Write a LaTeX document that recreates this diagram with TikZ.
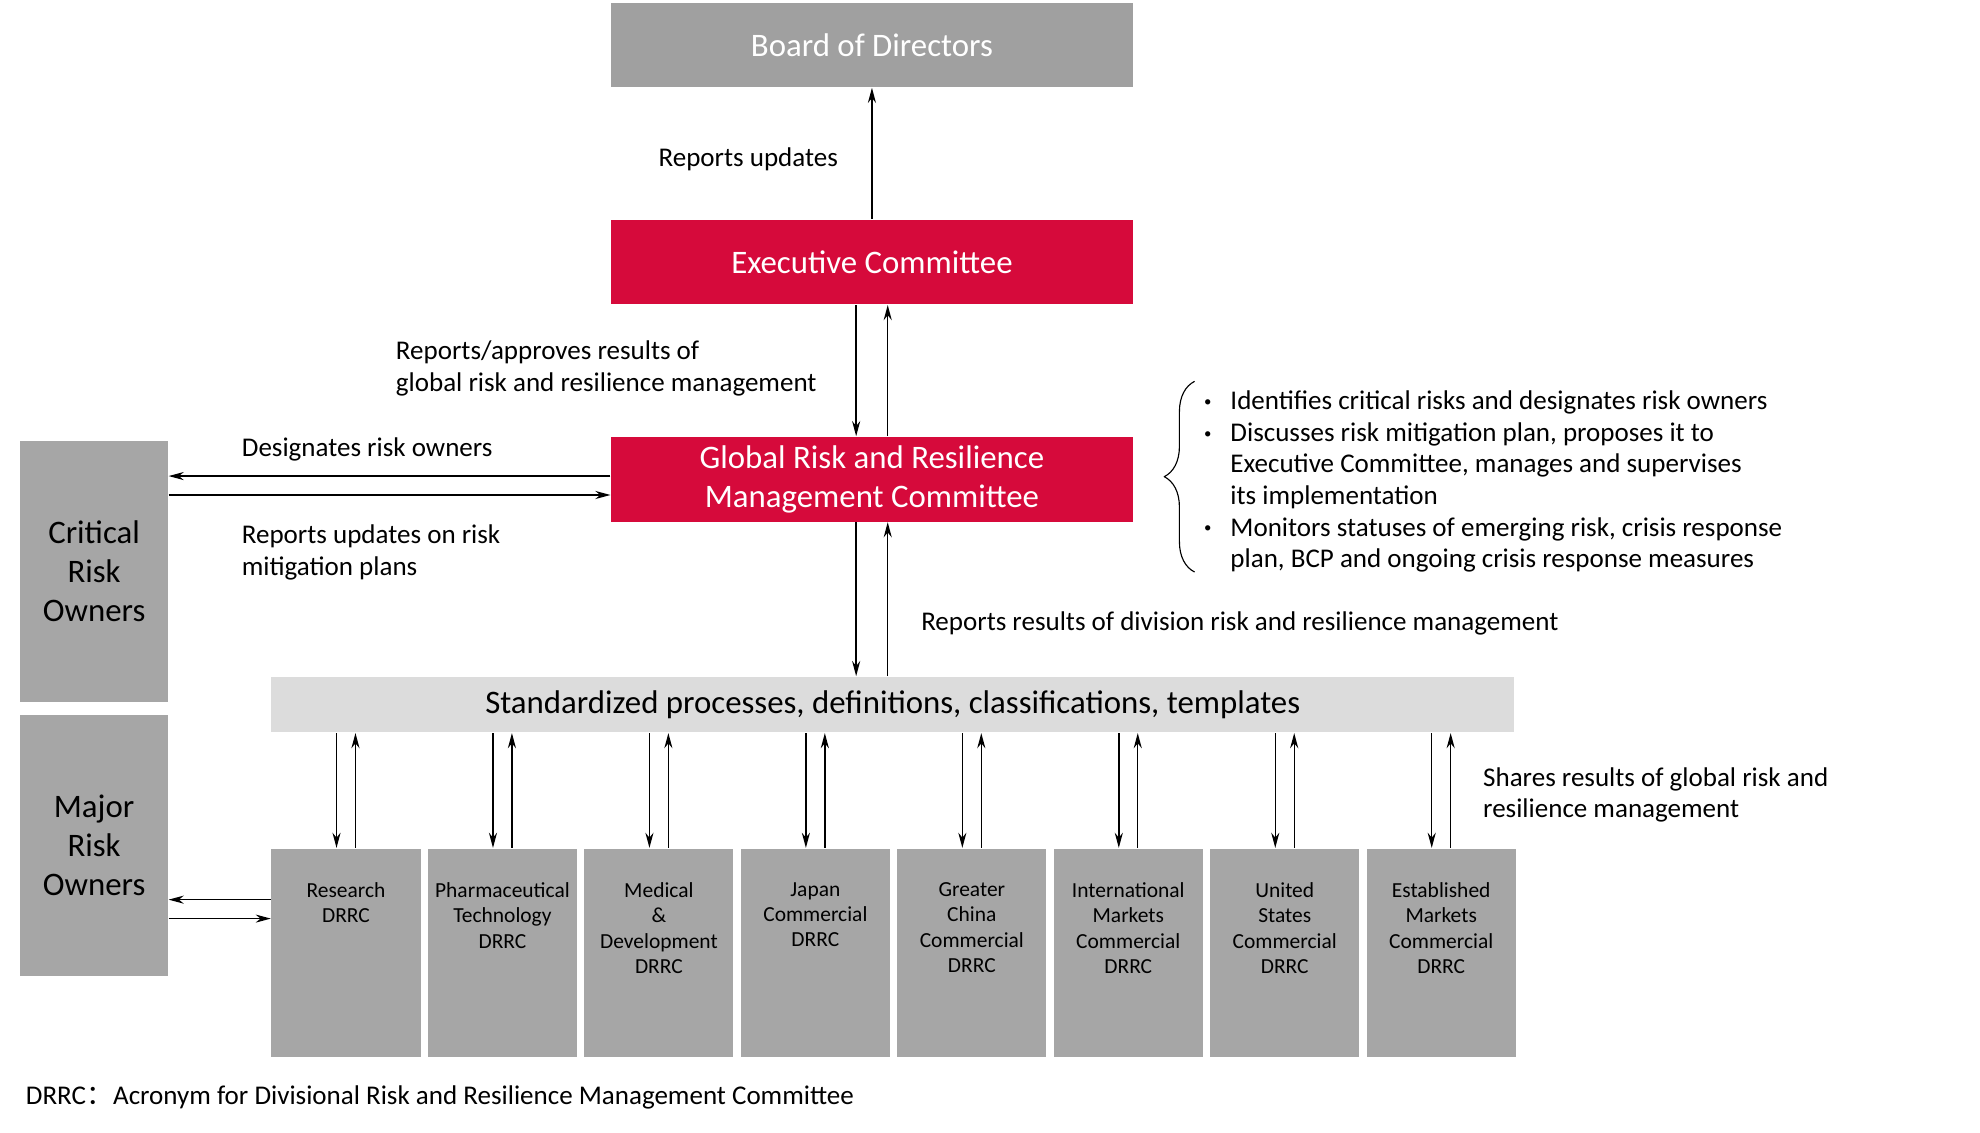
\documentclass[tikz,border=0pt]{standalone}
\usepackage{fontspec}
\setmainfont{Carlito}
\newfontfamily\cjk{Noto Sans CJK SC}
\usetikzlibrary{arrows.meta,decorations.pathreplacing}
\definecolor{boardgray}{RGB}{160,160,160}
\definecolor{ownergray}{RGB}{166,166,166}
\definecolor{stdgray}{RGB}{220,220,220}
\definecolor{riskred}{RGB}{214,10,59}
\newcommand\smallbullet{\raisebox{0.25ex}{\scalebox{0.55}{\textbullet}}}
\begin{document}
\begin{tikzpicture}[x=0.5pt, y=-0.5pt, font=\fontsize{10.7}{12.5}\selectfont, line join=round, line width=0.55pt, >={Stealth[length=6pt,width=3.2pt]},
	topbox/.style={minimum width=206.5pt, minimum height=33.5pt, inner sep=0pt, align=center, text=white, font=\fontsize{13}{15.5}\selectfont},
	owner/.style={fill=ownergray, minimum width=58.5pt, minimum height=103.5pt, inner sep=0pt, align=center, font=\fontsize{13}{15.5}\selectfont},
	drrc/.style={fill=ownergray, minimum width=59pt, minimum height=82.5pt, inner sep=0pt},
	drrctext/.style={anchor=north, yshift=-13.5pt, align=center, inner sep=0pt, font=\fontsize{8.5}{10}\selectfont},
	note/.style={anchor=west, align=left, inner sep=0pt, yshift=-1pt}]
		\useasboundingbox (0,0) rectangle (1568,897);
		\path
		(946,302) coordinate (bracetop)
		(946,453) coordinate (bracebot)
		;
		\node[topbox, fill=boardgray] (board) at (690.5,35.5) {Board of Directors};
		\node[topbox, fill=riskred] (exec) at (690.5,207.5) {Executive Committee};
		\node[topbox, fill=riskred] (grrmc) at (690.5,379.5) {Global Risk and Resilience\\Management Committee};
		\node[owner] (crit) at (74.5,452.5) {Critical\\Risk\\Owners};
		\node[owner] (major) at (74.5,669.5) {Major\\Risk\\Owners};
		\node[fill=stdgray, minimum width=492pt, minimum height=22pt, inner sep=0pt, font=\fontsize{13}{15}\selectfont] (std) at (707,558) {Standardized processes, definitions, classifications, templates};
		\foreach \name/\txt [count=\i from 0] in {research/Research\\DRRC, pharma/Pharmaceutical\\Technology\\DRRC, meddev/Medical\\\&\\Development\\DRRC, japan/Japan\\Commercial\\DRRC, china/Greater\\China\\Commercial\\DRRC, intl/International\\Markets\\Commercial\\DRRC, us/United\\States\\Commercial\\DRRC, estab/Established\\Markets\\Commercial\\DRRC}
		\node[drrc, label={[drrctext]north:\txt}] (\name) at (274+123.9*\i,754.5) {};
		\foreach \name in {research,pharma,meddev,japan,china,intl,us,estab}{
			\draw[->] ([xshift=-3.75pt]\name.north |- std.south) -- ([xshift=-3.75pt]\name.north);
			\draw[->] ([xshift=3.75pt]\name.north) -- ([xshift=3.75pt]\name.north |- std.south);
		}
		\draw[->] (exec.north) -- (board.south);
		\draw[->] ([xshift=-6.25pt]exec.south) -- ([xshift=-6.25pt]grrmc.north);
		\draw[->] ([xshift=6.25pt]grrmc.north) -- ([xshift=6.25pt]exec.south);
		\draw[->] ([xshift=-6.25pt]grrmc.south) -- ([xshift=-6.25pt]grrmc.south |- std.north);
		\draw[->] ([xshift=6.25pt]grrmc.south |- std.north) -- ([xshift=6.25pt]grrmc.south);
		\draw[->] ([yshift=1.25pt]grrmc.west) -- ([yshift=1.25pt]grrmc.west -| crit.east);
		\draw[->] ([yshift=-6.25pt]grrmc.west -| crit.east) -- ([yshift=-6.25pt]grrmc.west);
		\draw[->] ([yshift=-20.5pt]research.north west) -- ([yshift=-20.5pt]research.north west -| major.east);
		\draw[->] ([yshift=-28pt]research.north west -| major.east) -- ([yshift=-28pt]research.north west);
		\node[note] (reportsupd) at (521,124) {Reports updates};
		\node[note] (approves) at (313,290) {Reports/approves results of\\global risk and resilience management};
		\node[note] (designates) at (191,354) {Designates risk owners};
		\node[note] (mitigation) at (191,435.5) {Reports updates on risk\\mitigation plans};
		\node[note] (division) at (729,492) {Reports results of division risk and resilience management};
		\node[note] (shares) at (1174,627.5) {Shares results of global risk and\\resilience management};
		\node[note] (duties) at (953,380) {\begin{tabular}{@{}l@{\hspace{7.5pt}}l@{}}
			\smallbullet & Identifies critical risks and designates risk owners\\
			\smallbullet & Discusses risk mitigation plan, proposes it to\\
			& Executive Committee, manages and supervises\\
			& its implementation\\
			\smallbullet & Monitors statuses of emerging risk, crisis response\\
			& plan, BCP and ongoing crisis response measures
		\end{tabular}};
		\draw[decorate, decoration={brace, amplitude=12pt}, line width=0.45pt] (bracebot) -- (bracetop);
		\node[note] (footnote) at (20,867) {DRRC{\cjk ：}Acronym for Divisional Risk and Resilience Management Committee};
\end{tikzpicture}
\end{document}
